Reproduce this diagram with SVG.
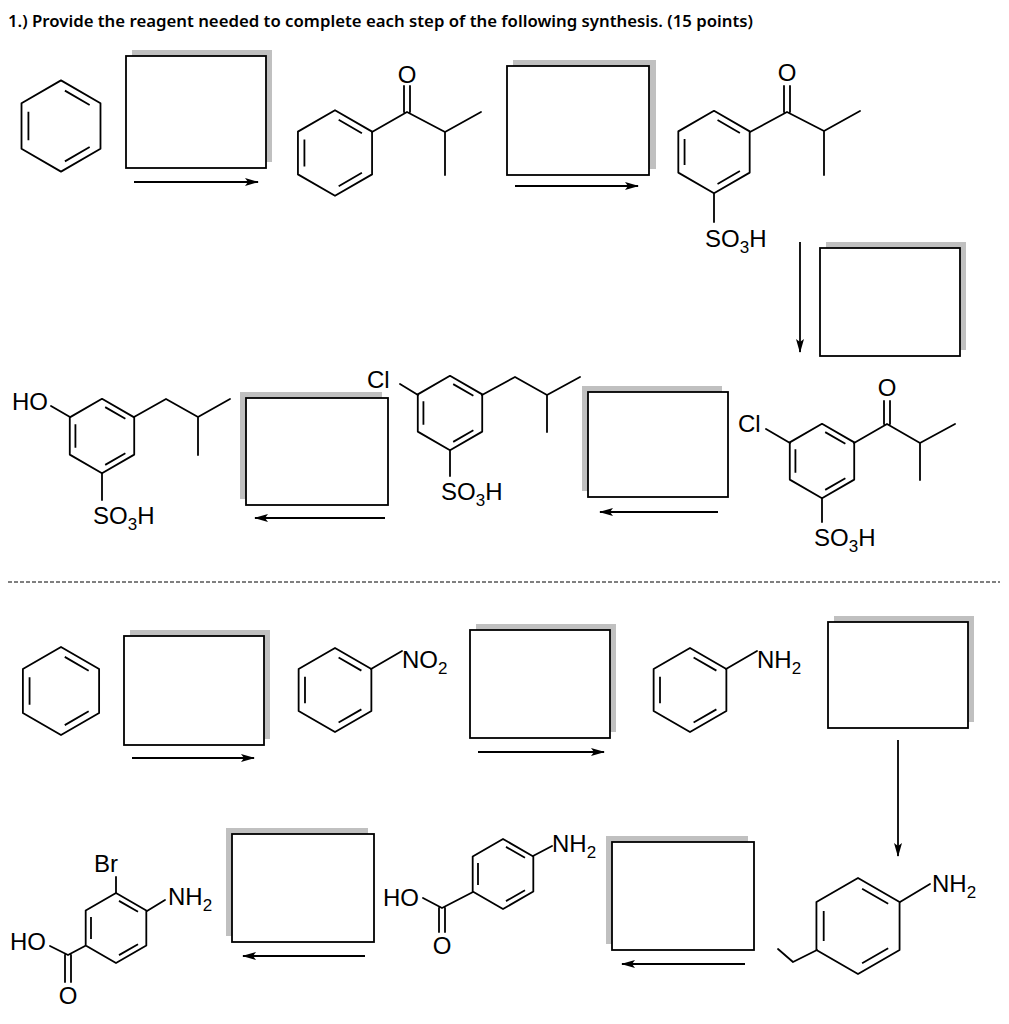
<svg xmlns="http://www.w3.org/2000/svg" xmlns:xlink="http://www.w3.org/1999/xlink" width="1009" height="1024" viewBox="0 0 1009 1024">
<style>
.b{fill:none;stroke:#000;stroke-width:1.8;stroke-linecap:round;stroke-linejoin:round}
.rp{fill:none;stroke:#000;stroke-width:1.8;stroke-linejoin:round;vector-effect:non-scaling-stroke}
.bx{fill:#fff;stroke:#000;stroke-width:1.8}
.sh{fill:#c0c0c0}
.t{font-family:"Liberation Sans",Arial,sans-serif;font-size:24px;fill:#000}
.s{font-size:17px}
.ar{stroke:#000;stroke-width:1.8;fill:none;marker-end:url(#ah)}
</style>
<defs>
<marker id="ah" viewBox="0 0 14 8" refX="13" refY="4" markerWidth="14" markerHeight="8" markerUnits="userSpaceOnUse" orient="auto"><path d="M0,0 L14,4 L0,8 L3,4 Z" fill="#000"/></marker>
<g id="ring">
<path class="rp" d="M0,-40 L34.64,-20 L34.64,20 L0,40 L-34.64,20 L-34.64,-20 Z"/>
<path class="rp" d="M3.43,-31.02 L25.15,-18.48 M25.15,18.48 L3.43,31.02 M-28.58,12.54 L-28.58,-12.54"/>
</g>
</defs>
<rect width="1009" height="1024" fill="#fff"/>
<text x="8" y="27" font-family="'Noto Sans','Liberation Sans',sans-serif" font-size="15.5" font-weight="600" textLength="745" lengthAdjust="spacingAndGlyphs">1.) Provide the reagent needed to complete each step of the following synthesis. (15 points)</text>

<g id="boxes">
<rect class="sh" x="132" y="50" width="140" height="112"/><rect class="bx" x="126" y="56" width="140" height="112"/>
<rect class="sh" x="513" y="60" width="143" height="109"/><rect class="bx" x="507" y="66" width="142" height="109"/>
<rect class="sh" x="826" y="242" width="140" height="108"/><rect class="bx" x="820" y="248" width="140" height="108"/>
<rect class="sh" x="240" y="392" width="142" height="107"/><rect class="bx" x="246" y="398" width="142" height="107"/>
<rect class="sh" x="582" y="386" width="140" height="105"/><rect class="bx" x="588" y="392" width="140" height="105"/>
<rect class="sh" x="130" y="630" width="140" height="109"/><rect class="bx" x="124" y="636" width="140" height="109"/>
<rect class="sh" x="476" y="624" width="140" height="108"/><rect class="bx" x="470" y="630" width="140" height="108"/>
<rect class="sh" x="834" y="616" width="140" height="106"/><rect class="bx" x="828" y="622" width="140" height="106"/>
<rect class="sh" x="226" y="828" width="142" height="108"/><rect class="bx" x="232" y="834" width="142" height="108"/>
<rect class="sh" x="606" y="836" width="142" height="108"/><rect class="bx" x="612" y="842" width="142" height="108"/>
</g>

<g id="connectors">
<line class="ar" x1="134" y1="182" x2="258" y2="182"/>
<line class="ar" x1="515" y1="186" x2="638" y2="186"/>
<line class="ar" x1="800" y1="242" x2="800" y2="352"/>
<line class="ar" x1="385" y1="518" x2="255" y2="518"/>
<line class="ar" x1="718" y1="512" x2="600" y2="512"/>
<line class="ar" x1="132" y1="758" x2="254" y2="758"/>
<line class="ar" x1="478" y1="752" x2="604" y2="752"/>
<line class="ar" x1="898" y1="740" x2="898" y2="856"/>
<line class="ar" x1="365" y1="956" x2="243" y2="956"/>
<line class="ar" x1="745" y1="964" x2="622" y2="964"/>
<line x1="8" y1="582" x2="1000" y2="582" stroke="#000" stroke-width="1" stroke-dasharray="4,2"/>
</g>

<g id="benzene1"><use xlink:href="#ring" transform="translate(61,126) scale(1.14)"/></g>

<g id="ketone1">
<use xlink:href="#ring" transform="translate(335,153) scale(1.07)"/>
<path class="b" d="M372,132 L407,112 L445,132 L481,112 M445,132 L445,175 M404,112 L404,86 M410,112 L410,86"/>
<text class="t" x="407" y="83" text-anchor="middle">O</text>
</g>

<g id="ketone2">
<use xlink:href="#ring" transform="translate(714,152) scale(1.03)"/>
<path class="b" d="M750,132 L787,112 L824,131 L860,111 M824,131 L824,175 M784,112 L784,86 M790,112 L790,86 M714,194 L714,222"/>
<text class="t" x="787" y="81" text-anchor="middle">O</text>
<text class="t" x="705" y="247">SO<tspan class="s" dy="6">3</tspan><tspan dy="-6">H</tspan></text>
</g>

<g id="phenol">
<use xlink:href="#ring" transform="translate(102,436) scale(0.93)"/>
<path class="b" d="M70,417 L51,406 M134,417 L166,399 L198,417 L230,399 M198,417 L198,455 M102,473 L102,500"/>
<text class="t" x="12" y="410">HO</text>
<text class="t" x="93" y="524">SO<tspan class="s" dy="6">3</tspan><tspan dy="-6">H</tspan></text>
</g>

<g id="chloroalkyl">
<use xlink:href="#ring" transform="translate(450,413) scale(0.93)"/>
<path class="b" d="M418,395 L400,384 M482,395 L515,377 L547,395 L580,377 M547,395 L547,432 M450,450 L450,476"/>
<text class="t" x="367" y="388">Cl</text>
<text class="t" x="441" y="500">SO<tspan class="s" dy="6">3</tspan><tspan dy="-6">H</tspan></text>
</g>

<g id="chloroketone">
<use xlink:href="#ring" transform="translate(822,461) scale(0.93)"/>
<path class="b" d="M790,443 L766,429 M854,443 L887,424 L920,443 L955,424 M920,443 L920,480 M884,424 L884,401 M890,424 L890,401 M822,498 L822,522"/>
<text class="t" x="887" y="396" text-anchor="middle">O</text>
<text class="t" x="738" y="432">Cl</text>
<text class="t" x="814" y="546">SO<tspan class="s" dy="6">3</tspan><tspan dy="-6">H</tspan></text>
</g>

<g id="benzene2"><use xlink:href="#ring" transform="translate(61,691) scale(1.1)"/></g>

<g id="nitrobenzene">
<use xlink:href="#ring" transform="translate(335,690) scale(1.05)"/>
<path class="b" d="M371,669 L402,651"/>
<text class="t" x="402" y="668">NO<tspan class="s" dy="6">2</tspan></text>
</g>

<g id="aniline">
<use xlink:href="#ring" transform="translate(690,690) scale(1.05)"/>
<path class="b" d="M726,669 L757,651"/>
<text class="t" x="757" y="668">NH<tspan class="s" dy="6">2</tspan></text>
</g>

<g id="methylaniline">
<use xlink:href="#ring" transform="translate(858,926) scale(1.2)"/>
<path class="b" d="M900,902 L930,884 M817,950 L793,962 L778,949"/>
<text class="t" x="932" y="892">NH<tspan class="s" dy="6">2</tspan></text>
</g>

<g id="aminobenzoic">
<use xlink:href="#ring" transform="translate(503,874) scale(0.875)"/>
<path class="b" d="M533,856 L552,846 M473,892 L442,908 L423,898 M439,908 L439,932 M445,908 L445,932"/>
<text class="t" x="552" y="852">NH<tspan class="s" dy="6">2</tspan></text>
<text class="t" x="383" y="906">HO</text>
<text class="t" x="442" y="954" text-anchor="middle">O</text>
</g>

<g id="bromoaminobenzoic">
<use xlink:href="#ring" transform="translate(116,928) scale(0.875)"/>
<path class="b" d="M116,893 L116,877 M147,911 L165,900 M85,946 L68,955 L50,946 M65,955 L65,982 M71,955 L71,982"/>
<text class="t" x="94" y="872">Br</text>
<text class="t" x="168" y="905">NH<tspan class="s" dy="6">2</tspan></text>
<text class="t" x="10" y="950">HO</text>
<text class="t" x="68" y="1004" text-anchor="middle">O</text>
</g>
</svg>
